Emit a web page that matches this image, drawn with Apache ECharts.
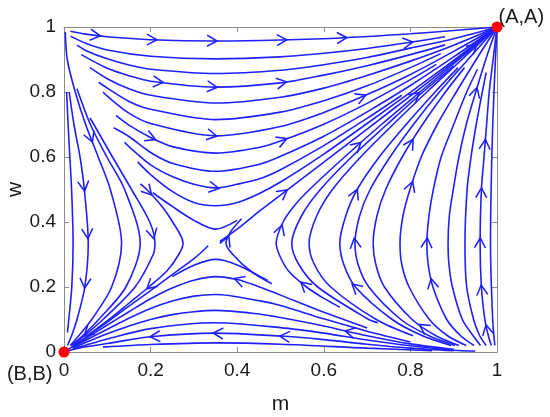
<!DOCTYPE html>
<html><head><meta charset="utf-8">
<script src="https://cdn.jsdelivr.net/npm/echarts@6/dist/echarts.min.js"></script>
<style>html,body{margin:0;padding:0;background:#fff}#c{width:550px;height:417px}</style>
</head><body><div id="c"></div><script>
// ---- data: points [m, w] along each streamline, in flow direction ----
const topCurves = [
  [[.015,.987],[.05,.978],[.1,.97],[.2,.961],[.35,.957],[.5,.96],[.65,.967],[.8,.979],[.9,.989],[1,1]],
  [[.015,.972],[.05,.95],[.1,.929],[.2,.91],[.35,.902],[.5,.908],[.6,.919],[.7,.934],[.8,.953],[.88,.97]],
  [[.03,.944],[.05,.928],[.1,.902],[.15,.883],[.2,.87],[.35,.857],[.5,.867],[.6,.884],[.7,.906],[.8,.935],[.9,.964],[1,1]],
  [[.04,.915],[.1,.873],[.15,.85],[.2,.833],[.35,.815],[.5,.828],[.6,.852],[.7,.881],[.8,.915],[.88,.945]],
  [[.06,.875],[.1,.841],[.15,.81],[.2,.79],[.35,.766],[.5,.784],[.6,.812],[.7,.851],[.8,.895],[.9,.944],[1,1]],
  [[.08,.83],[.1,.812],[.15,.771],[.2,.747],[.35,.715],[.5,.738],[.6,.773],[.7,.819],[.8,.875],[.87,.918]],
  [[.09,.80],[.1,.787],[.15,.735],[.2,.703],[.35,.665],[.5,.694],[.6,.737],[.7,.792],[.8,.854],[.9,.925],[1,1]],
  [[.12,.728],[.15,.698],[.2,.66],[.25,.632],[.35,.612],[.45,.629],[.5,.649],[.6,.701],[.7,.765],[.8,.838],[.86,.885]],
  [[.115,.69],[.15,.663],[.2,.614],[.25,.581],[.35,.556],[.45,.577],[.5,.602],[.6,.664],[.7,.739],[.8,.82],[.9,.908],[1,1]],
  [[.14,.645],[.15,.632],[.2,.576],[.25,.54],[.3,.516],[.35,.505],[.4,.516],[.45,.532],[.5,.561],[.6,.635],[.7,.719],[.78,.79]],
  [[.17,.585],[.2,.546],[.25,.494],[.3,.46],[.35,.45],[.4,.46],[.45,.487],[.5,.523],[.6,.609],[.7,.703],[.8,.799],[.9,.897],[1,1]],
  [[.205,.49],[.25,.448],[.3,.405],[.35,.378],[.4,.405]]
];
const leftCurves = [
  [[.006,.8],[.0095,.7],[.0135,.6],[.0175,.5],[.021,.335],[.018,.2],[.011,.1],[.008,.06]],
  [[.012,.8],[.023,.7],[.037,.6],[.047,.5],[.056,.335],[.048,.2],[.03,.1],[.0175,.05],[.008,.02]],
  [[.003,.985],[.0075,.9],[.026,.8],[.05,.7],[.079,.6],[.107,.5],[.133,.335],[.11,.2],[.064,.1],[.034,.05],[.0145,.02]],
  [[.03,.81],[.061,.7],[.099,.6],[.14,.5],[.176,.335],[.143,.2],[.08,.1],[.043,.05],[.017,.02]],
  [[.06,.72],[.069,.7],[.112,.6],[.156,.5],[.198,.4],[.21,.335],[.206,.3],[.164,.2],[.09,.1],[.047,.05],[.02,.02]],
  [[.176,.517],[.191,.5],[.225,.45],[.251,.4],[.275,.335],[.265,.3],[.238,.25],[.196,.2],[.15,.15],[.104,.1],[.054,.05]]
];
const bottomCurves = [
  [[.47,.22],[.4,.268],[.35,.285],[.3,.267],[.25,.232]],
  [[.7,.074],[.6,.122],[.5,.175],[.45,.201],[.4,.223],[.35,.232],[.3,.221],[.25,.197],[.2,.164],[.15,.124],[.1,.083],[.05,.041],[.02,.016]],
  [[.8,.031],[.7,.064],[.6,.102],[.5,.143],[.45,.158],[.35,.177],[.3,.172],[.25,.157],[.2,.134],[.15,.104],[.1,.07],[.05,.036],[.02,.0145]],
  [[.9,.008],[.8,.025],[.7,.05],[.6,.08],[.5,.106],[.45,.117],[.35,.128],[.3,.124],[.25,.115],[.2,.1],[.15,.08],[.1,.056],[.05,.029],[.02,.012]],
  [[.95,.003],[.9,.0055],[.8,.019],[.7,.037],[.6,.058],[.5,.075],[.35,.09],[.2,.072],[.1,.04],[.05,.021],[.02,.009]],
  [[.9,.004],[.8,.012],[.7,.024],[.6,.038],[.5,.049],[.35,.058],[.2,.047],[.1,.026],[.05,.016],[.01,.004]],
  [[.85,.004],[.7,.012],[.5,.024],[.35,.028],[.2,.023],[.09,.015]]
];
const rightCurves = [
  [[.48,.21],[.43,.25],[.39,.3],[.374,.335],[.385,.37],[.41,.41]],
  [[.637,.138],[.6,.165],[.56,.2],[.518,.25],[.497,.3],[.49,.335],[.506,.4],[.532,.45],[.567,.5],[.648,.6],[.733,.7],[.822,.8],[.912,.9],[.956,.95],[1,1]],
  [[.725,.09],[.704,.1],[.586,.2],[.542,.27],[.526,.335],[.549,.42],[.592,.5],[.664,.6],[.746,.7],[.829,.8],[.9,.88]],
  [[.806,.05],[.721,.1],[.616,.2],[.578,.27],[.566,.335],[.584,.42],[.62,.5],[.685,.6],[.76,.7],[.838,.8],[.919,.9],[1,1]],
  [[.894,.02],[.828,.05],[.758,.1],[.673,.2],[.646,.27],[.637,.335],[.651,.42],[.677,.5],[.728,.6],[.79,.7],[.857,.8],[.91,.875]],
  [[.903,.02],[.843,.05],[.778,.1],[.704,.2],[.679,.27],[.672,.335],[.683,.42],[.707,.5],[.753,.6],[.807,.7],[.867,.8],[.933,.9],[1,1]],
  [[.912,.02],[.859,.05],[.804,.1],[.74,.2],[.72,.27],[.714,.335],[.723,.42],[.743,.5],[.781,.6],[.828,.7],[.881,.8],[.925,.875]],
  [[.929,.02],[.886,.05],[.844,.1],[.797,.2],[.78,.27],[.776,.335],[.783,.42],[.799,.5],[.825,.6],[.862,.7],[.906,.8],[.952,.9],[1,1]],
  [[.947,.02],[.916,.05],[.884,.1],[.852,.2],[.841,.27],[.838,.335],[.843,.42],[.853,.5],[.871,.6],[.9,.7],[.93,.8],[.955,.87]],
  [[.962,.02],[.945,.05],[.92,.1],[.897,.2],[.889,.27],[.887,.335],[.89,.42],[.899,.5],[.912,.6],[.929,.7],[.951,.8],[.974,.9],[1,1]],
  [[.975,.02],[.96,.05],[.946,.1],[.93,.2],[.926,.335],[.931,.5],[.94,.6],[.952,.7],[.966,.8],[.975,.86]],
  [[.987,.02],[.98,.05],[.972,.1],[.964,.2],[.961,.335],[.964,.5],[.97,.6],[.976,.7],[.982,.8],[.991,.9],[1,1]],
  [[.995,.02],[.99,.1],[.985,.335],[.988,.6],[.993,.8],[1,1]]
];
const separatrices = [
  [[.333,.327],[.3,.287],[.25,.238],[.2,.189],[.15,.141],[.1,.092],[.05,.045],[.01,.008]],
  [[.36,.34],[.4,.378],[.45,.432],[.5,.483],[.6,.584],[.7,.686],[.8,.788],[.9,.892],[1,1]]
];
// arrow head positions
const arrowMarks = [
  [.072,.972],[.203,.96],[.342,.957],[.503,.96],[.642,.966],[.794,.954],
  [.217,.823],[.342,.813],[.503,.826],[.684,.792],[.81,.792],[.945,.939],
  [.199,.654],[.342,.67],[.503,.654],[.672,.642],[.799,.642],[.945,.801],
  [.349,.526],[.203,.505],[.506,.49],[.667,.49],[.799,.511],[.961,.49],[.972,.639],
  [.055,.657],[.049,.511],[.055,.364],[.055,.211],[.206,.364],[.203,.2],
  [.494,.379],[.376,.342],[.667,.336],[.838,.336],[.961,.336],
  [.402,.211],[.552,.2],[.672,.196],[.85,.211],[.961,.19],
  [.055,.058],[.21,.055],[.356,.061],[.51,.052],[.66,.058],[.829,.073],[.972,.067]
];
const equilibria = [[0,0],[1,1]];
const equilibriumLabels = ['(B,B)','(A,A)'];
const tickValues = [0,0.2,0.4,0.6,0.8,1];
const xTickLabels = ['0','0.2','0.4','0.6','0.8','1'];
const yTickLabels = ['0','0.2','0.4','0.6','0.8','1'];

// ---- chart ----
const BLUE = '#1f1fff';
const AXIS = '#8c8c8c';
const TEXT = '#1a1a1a';
const FONT = 'Liberation Sans, Arial, sans-serif';
const chart = echarts.init(document.getElementById('c'), null, {renderer:'canvas'});
const allCurves = [].concat(topCurves, leftCurves, bottomCurves, rightCurves, separatrices);
const labelOf = (arr) => (v) => { const i = tickValues.findIndex(t => Math.abs(t - v) < 1e-6); return i < 0 ? '' : arr[i]; };
const axisCommon = {
  type:'value', min:0, max:1, interval:0.2,
  axisLine:{show:true, onZero:false, lineStyle:{color:AXIS, width:1}},
  axisTick:{show:true, inside:true, length:5, lineStyle:{color:AXIS}},
  splitLine:{show:false}
};
const lineSeries = allCurves.map((c, i) => ({
  type:'line', data:c, symbol:'none', smooth:0.3, silent:true, clip:true,
  lineStyle:{color:BLUE, width:1.6, opacity:1}, z:2
}));
const eqLabel = {show:true, color:TEXT, fontSize:20, fontFamily:FONT, textBorderWidth:0, opacity:1};
chart.setOption({
  animation:false,
  textStyle:{fontFamily:FONT},
  grid:{left:64, right:53, top:27, bottom:65, containLabel:false, outerBoundsMode:'none'},
  xAxis:[
    Object.assign({}, axisCommon, {position:'bottom',
      axisLabel:{color:TEXT, fontSize:19, margin:9, fontFamily:FONT, formatter:labelOf(xTickLabels)},
      name:'m', nameLocation:'middle', nameGap:42, nameMoveOverlap:false, nameTextStyle:{color:TEXT, fontSize:21, fontFamily:FONT}}),
    Object.assign({}, axisCommon, {position:'top', axisLabel:{show:false}})
  ],
  yAxis:[
    Object.assign({}, axisCommon, {position:'left',
      axisLabel:{color:TEXT, fontSize:19, margin:8, fontFamily:FONT, formatter:labelOf(yTickLabels)},
      name:'w', nameLocation:'middle', nameGap:38, nameRotate:90, nameMoveOverlap:false, nameTextStyle:{color:TEXT, fontSize:21, fontFamily:FONT}}),
    Object.assign({}, axisCommon, {position:'right', axisLabel:{show:false}})
  ],
  series: lineSeries.concat([
    {id:'arrows', type:'scatter', data:[], silent:true, z:3,
     symbol:'path://M0,0L9,5L0,10', symbolSize:[10,11],
     itemStyle:{color:'rgba(0,0,0,0)', borderColor:BLUE, borderWidth:1.5, opacity:1}},
    {type:'scatter', clip:false, silent:true, z:5, symbolSize:11,
     itemStyle:{color:'#ff0000', opacity:1},
     data:[
       {value:equilibria[0], label:Object.assign({formatter:equilibriumLabels[0], position:'left', distance:6, offset:[0,22]}, eqLabel)},
       {value:equilibria[1], label:Object.assign({formatter:equilibriumLabels[1], position:'right', distance:-4, offset:[0,-10]}, eqLabel)}
     ]}
  ])
});

// place each arrow head on its nearest streamline, oriented along the flow
const finder = {xAxisIndex:0, yAxisIndex:0};
const pix = allCurves.map(c => c.map(p => chart.convertToPixel(finder, p)));
const arrowData = arrowMarks.map(a => {
  const q = chart.convertToPixel(finder, a);
  let best = {d:Infinity};
  pix.forEach(c => {
    for (let i = 0; i < c.length - 1; i++) {
      const [x1,y1] = c[i], [x2,y2] = c[i+1];
      const dx = x2-x1, dy = y2-y1, L2 = dx*dx+dy*dy;
      if (L2 === 0) continue;
      let t = ((q[0]-x1)*dx + (q[1]-y1)*dy) / L2;
      t = Math.max(0, Math.min(1, t));
      const px = x1+t*dx, py = y1+t*dy;
      const d = Math.hypot(q[0]-px, q[1]-py);
      if (d < best.d) best = {d, px, py, ang: Math.atan2(-dy, dx)*180/Math.PI};
    }
  });
  return {value: chart.convertFromPixel(finder, [best.px, best.py]), symbolRotate: best.ang};
});
chart.setOption({series:[{id:'arrows', data:arrowData}]});
</script></body></html>
